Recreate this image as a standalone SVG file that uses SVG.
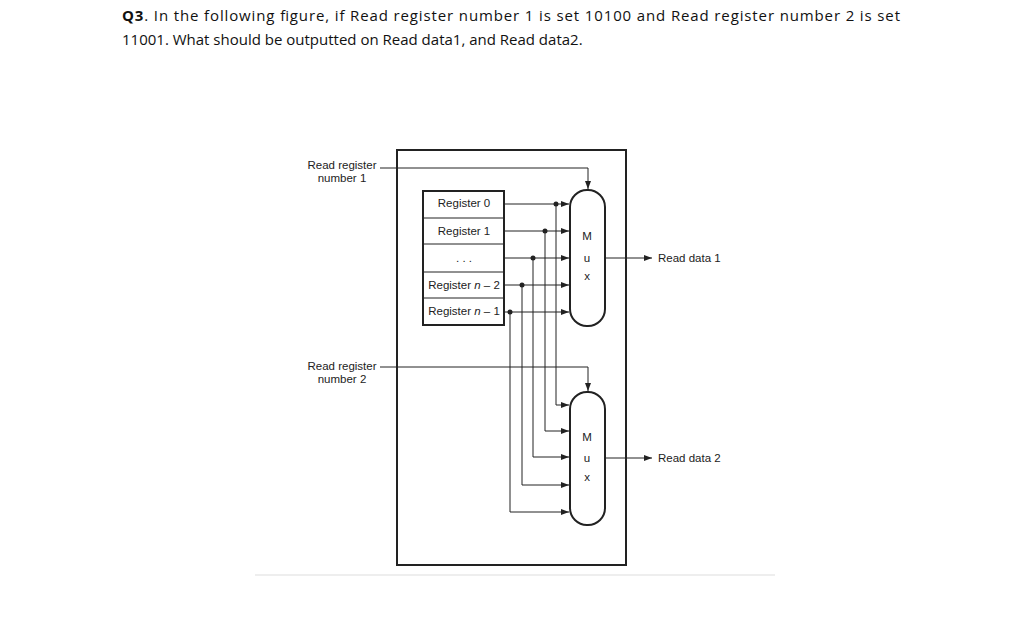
<svg xmlns="http://www.w3.org/2000/svg" width="1024" height="617" viewBox="0 0 1024 617">
<defs>
<marker id="a" markerWidth="8" markerHeight="6" refX="8" refY="3" orient="auto" markerUnits="userSpaceOnUse"><path d="M0,0 L8,3 L0,6 z" fill="#222"/></marker>
<style>
.t{font-family:"Liberation Sans",Arial,sans-serif;font-size:11.5px;fill:#222}
.q{font-family:"Open Sans","Liberation Sans",sans-serif;font-size:15px;fill:#111}
.l{stroke:#222;stroke-width:1;fill:none}
.b{stroke:#222;stroke-width:2;fill:#fff}
</style>
</defs>
<rect width="1024" height="617" fill="#fff"/>
<text class="q" x="122" y="21" textLength="778" lengthAdjust="spacing"><tspan font-weight="bold">Q3</tspan>. In the following figure, if Read register number 1 is set 10100 and Read register number 2 is set</text>
<text class="q" x="122" y="45">11001. What should be outputted on Read data1, and Read data2.</text>
<line x1="255" y1="575" x2="775" y2="575" stroke="#eee" stroke-width="2"/>
<g id="frame"><rect x="397" y="150" width="229" height="415" class="b"/></g>
<g id="registers">
<rect x="423" y="191" width="81" height="134" class="b"/>
<line x1="423" y1="218" x2="504" y2="218" class="l" stroke-width="2"/>
<line x1="423" y1="244" x2="504" y2="244" class="l" stroke-width="2"/>
<line x1="423" y1="272" x2="504" y2="272" class="l" stroke-width="2"/>
<line x1="423" y1="298" x2="504" y2="298" class="l" stroke-width="2"/>
<text class="t" x="464" y="207" text-anchor="middle">Register 0</text>
<text class="t" x="464" y="235" text-anchor="middle">Register 1</text>
<text class="t" x="464" y="262" text-anchor="middle">. . .</text>
<text class="t" x="464" y="289" text-anchor="middle">Register <tspan font-style="italic">n</tspan> – 2</text>
<text class="t" x="464" y="315" text-anchor="middle">Register <tspan font-style="italic">n</tspan> – 1</text>
</g>
<g id="mux1"><rect x="570" y="190" width="35" height="136" rx="17" class="b"/>
<text class="t" x="587" y="240" text-anchor="middle">M</text><text class="t" x="587" y="262" text-anchor="middle">u</text><text class="t" x="587" y="280" text-anchor="middle">x</text></g>
<g id="mux2"><rect x="570" y="392" width="35" height="133" rx="17" class="b"/>
<text class="t" x="587" y="441" text-anchor="middle">M</text><text class="t" x="587" y="462" text-anchor="middle">u</text><text class="t" x="587" y="481" text-anchor="middle">x</text></g>
<g id="labels">
<text class="t" x="342" y="169" text-anchor="middle">Read register</text>
<text class="t" x="342" y="182" text-anchor="middle">number 1</text>
<text class="t" x="342" y="370" text-anchor="middle">Read register</text>
<text class="t" x="342" y="383" text-anchor="middle">number 2</text>
<text class="t" x="658" y="262">Read data 1</text>
<text class="t" x="658" y="462">Read data 2</text>
</g>
<g id="connectors">
<polyline class="l" points="380,168 588,168 588,189" marker-end="url(#a)"/>
<polyline class="l" points="380,367 588,367 588,391" marker-end="url(#a)"/>
<line class="l" x1="605" y1="258" x2="652" y2="258" marker-end="url(#a)"/>
<line class="l" x1="605" y1="458" x2="652" y2="458" marker-end="url(#a)"/>
<line class="l" x1="504" y1="204" x2="569" y2="204" marker-end="url(#a)"/>
<line class="l" x1="504" y1="231" x2="569" y2="231" marker-end="url(#a)"/>
<line class="l" x1="504" y1="258" x2="569" y2="258" marker-end="url(#a)"/>
<line class="l" x1="504" y1="285" x2="569" y2="285" marker-end="url(#a)"/>
<line class="l" x1="504" y1="312" x2="569" y2="312" marker-end="url(#a)"/>
<polyline class="l" points="556,204 556,405 569,405" marker-end="url(#a)"/>
<polyline class="l" points="545,231 545,431 569,431" marker-end="url(#a)"/>
<polyline class="l" points="533,258 533,457 569,457" marker-end="url(#a)"/>
<polyline class="l" points="522,285 522,485 569,485" marker-end="url(#a)"/>
<polyline class="l" points="510,312 510,512 569,512" marker-end="url(#a)"/>
<g fill="#222"><circle cx="556" cy="204" r="2.5"/><circle cx="545" cy="231" r="2.5"/><circle cx="533" cy="258" r="2.5"/><circle cx="522" cy="285" r="2.5"/><circle cx="510" cy="312" r="2.5"/></g>
</g>
</svg>
